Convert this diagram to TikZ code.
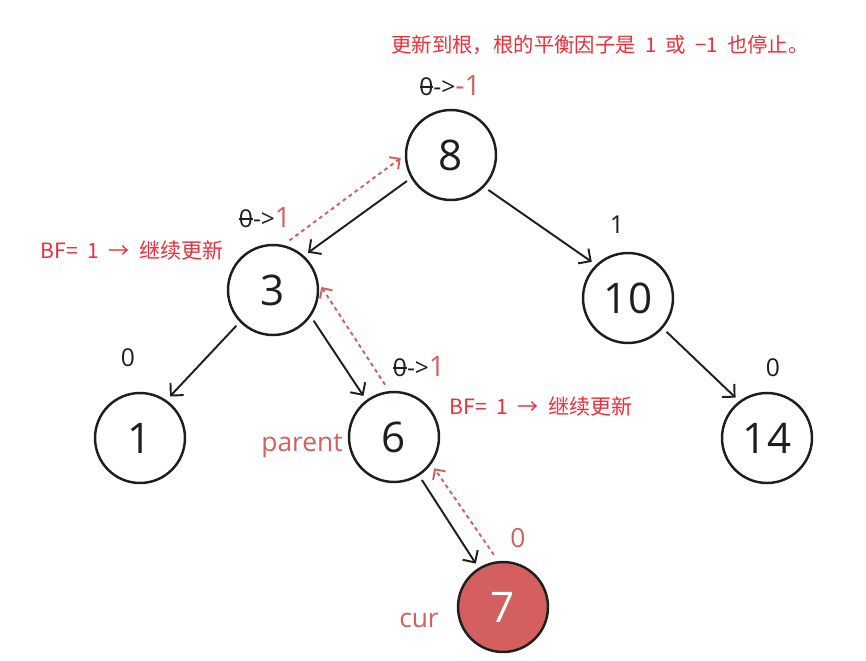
\documentclass[tikz,border=0pt]{standalone}
\usepackage{fontspec}
\setmainfont{Open Sans}
\newfontfamily\cjk{Noto Sans CJK SC}
\usetikzlibrary{arrows.meta,positioning}
\definecolor{nodered}{HTML}{D35F5F}
\definecolor{notered}{RGB}{238,46,56}
\definecolor{inkgray}{HTML}{1E1E1E}
\newcommand{\zerox}{\makebox[0pt][l]{\hspace{0.02em}\rule[0.33em]{0.55em}{0.07em}}0}
\newcommand{\gap}{\hspace{0.45em}}

\begin{document}
\begin{tikzpicture}[
  x=0.02cm, y=-0.02cm,
  tnode/.style={circle, draw=inkgray, line width=1.4pt, minimum size=1.8cm, inner sep=0pt, text=inkgray, font=\fontsize{24}{28}\selectfont},
  curnode/.style={tnode, fill=nodered, text=white},
  edge/.style={-{Straight Barb[length=1.8mm,width=3.6mm]}, draw=inkgray, line width=1.1pt, shorten <=1mm, shorten >=1mm},
  back/.style={-{Straight Barb[length=1.5mm,width=3mm]}, draw=nodered, line width=1.1pt, dash pattern=on 2.2pt off 2pt, shorten <=1.5mm, shorten >=1mm},
  bf/.style={text=inkgray, font=\fontsize{14}{16}\selectfont},
  tag/.style={text=nodered, font=\fontsize{15}{18}\selectfont},
  note/.style={text=notered, font=\cjk\fontsize{12}{14}\selectfont}
]
\useasboundingbox (0,0) rectangle (866,660);

\node[tnode] (n8) at (451,155) {8};
\node[tnode] (n3) at (273,290) {3};
\node[tnode] (n10) at (628,298) {10};
\node[tnode] (n1) at (140,438) {1};
\node[tnode] (n6) at (394,437) {6};
\node[tnode] (n14) at (767,438) {14};
\node[curnode] (n7) at (503,607) {7};

\draw[edge] (n8.210) -- (n3.48);
\draw[edge] (n8.316) -- (n10.134);
\draw[edge] (n3.224) -- (n1.55);
\draw[edge] (n3.325) -- (n6.127);
\draw[edge] (n10.319) -- (n14.127);
\draw[edge] (n6.303) -- (n7.122);

\draw[back] (n7.96) -- (n6.324);
\draw[back] (n6.96) -- (n3.9);
\draw[back] (n3.77) -- (n8.180);

\node[note, font=\cjk\fontsize{11.6}{13}\selectfont] (top) at (600,45) {更新到根，根的平衡因子是\gap{}1\gap{}或\gap{}−1\gap{}也停止。};
\node[bf] (bf8) at (450,86) {\zerox->\textcolor{nodered}{\fontsize{16}{18}\selectfont -1}};
\node[bf] (bf3) at (265,218) {\zerox->\textcolor{nodered}{\fontsize{16}{18}\selectfont 1}};
\node[bf] (bf6) at (419,367) {\zerox->\textcolor{nodered}{\fontsize{16}{18}\selectfont 1}};
\node[bf] (bf10) at (617,225) {1};
\node[bf] (bf1) at (128,358) {0};
\node[bf] (bf14) at (773,368) {0};
\node[tag] (bf7) at (518,538) {0};

\node[note] (go3) at (132,250) {BF=\gap{}1\gap{}→\gap{}继续更新};
\node[note] (go6) at (541,406) {BF=\gap{}1\gap{}→\gap{}继续更新};

\node[tag] (parent) at (302,446) {parent};
\node[tag] (cur) at (419,620) {cur};
\end{tikzpicture}
\end{document}
